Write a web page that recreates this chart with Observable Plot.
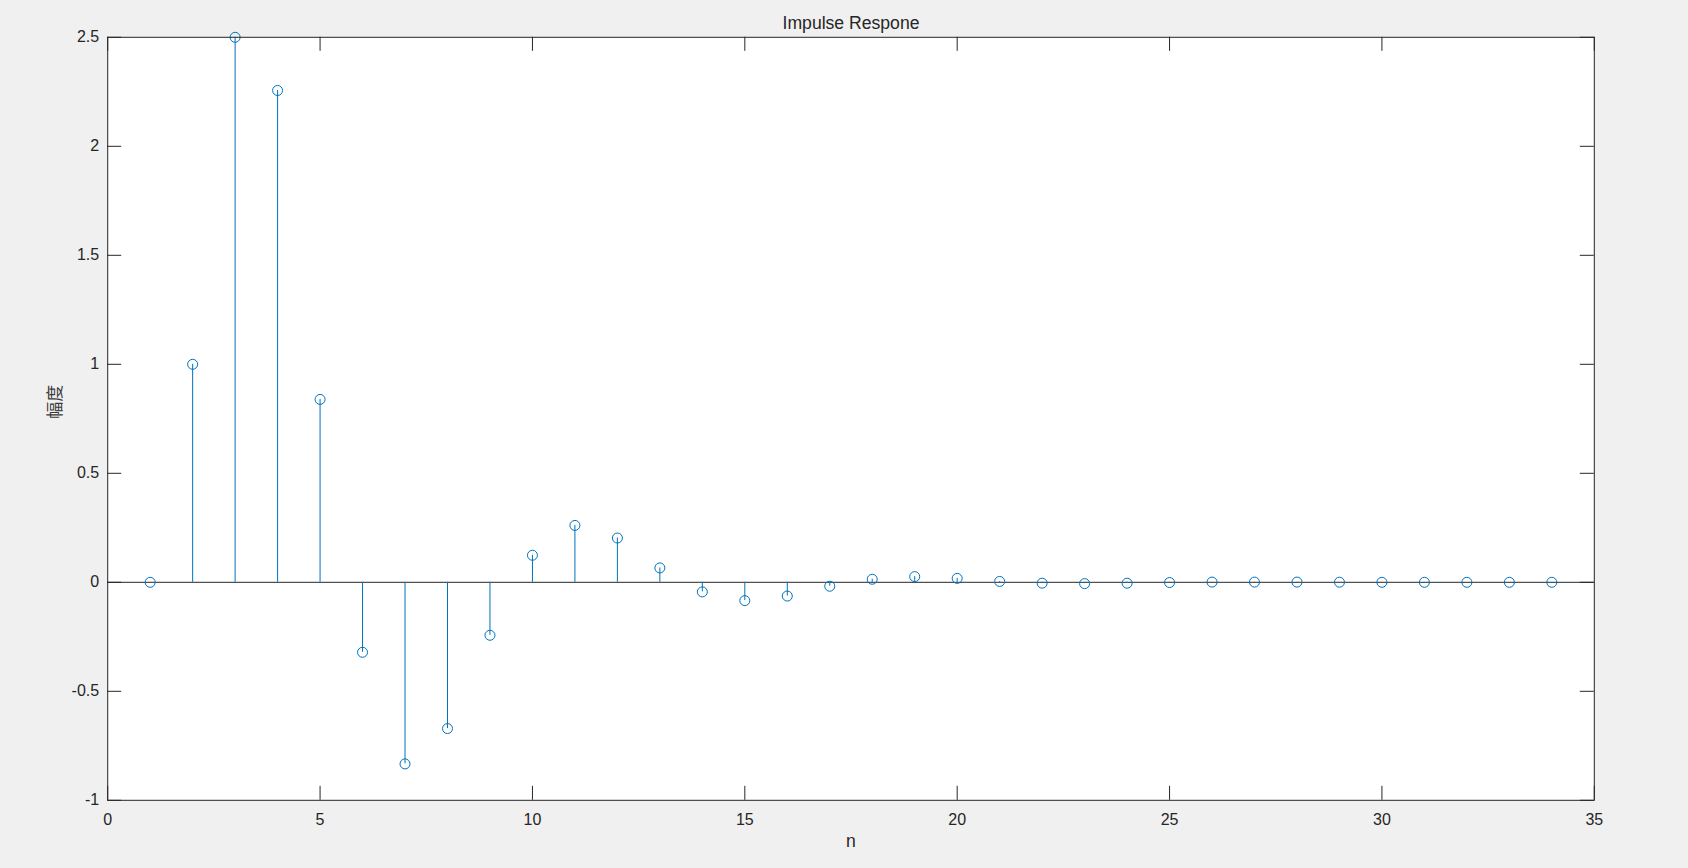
<!DOCTYPE html>
<html>
<head>
<meta charset="utf-8">
<script src="https://cdn.jsdelivr.net/npm/d3@7"></script>
<script src="https://cdn.jsdelivr.net/npm/@observablehq/plot@0.6"></script>
<style>
  html, body { margin: 0; padding: 0; background: #f0f0f0; overflow: hidden; }
</style>
</head>
<body>
<div id="chart"></div>
<script>
const titleText = "Impulse Respone";
const xLabel = "n";
const yLabel = "幅度";
const nValues = [1,2,3,4,5,6,7,8,9,10,11,12,13,14,15,16,17,18,19,20,21,22,23,24,25,26,27,28,29,30,31,32,33,34];
const hValues = [0, 1.0, 2.5, 2.256, 0.839, -0.321, -0.833, -0.671, -0.243, 0.124, 0.261, 0.203, 0.066, -0.044, -0.084, -0.063, -0.018, 0.014, 0.026, 0.018, 0.004, -0.004, -0.006, -0.004, -0.001, 0.001, 0.001, 0.001, 0.0005, 0, 0, 0, 0, 0];
const xTicks = [0, 5, 10, 15, 20, 25, 30, 35];
const yTicks = [-1, -0.5, 0, 0.5, 1, 1.5, 2, 2.5];
const xDomain = [0, 35];
const yDomain = [-1, 2.5];

const data = nValues.map((n, i) => ({n, v: hValues[i]}));

const W = 1688, H = 868;
const mL = 107.2, mR = 94.2, mT = 36.8, mB = 68.2;
const plotW = W - mL - mR, plotH = H - mT - mB;
const tickLen = 14;
const ink = "#262626";
const blue = "#0072BD";
const fmt = d => String(d);

const chart = Plot.plot({
  width: W,
  height: H,
  marginLeft: mL,
  marginRight: mR,
  marginTop: mT,
  marginBottom: mB,
  style: {background: "#f0f0f0", color: ink, fontFamily: "'Liberation Sans', Arial, Helvetica, sans-serif", fontSize: "16px"},
  x: {domain: xDomain},
  y: {domain: yDomain},
  marks: [
    Plot.frame({fill: "white", stroke: null}),
    Plot.ruleY([0], {stroke: ink, strokeWidth: 1}),
    Plot.ruleX(data, {x: "n", y1: () => 0, y2: "v", stroke: blue, strokeWidth: 1}),
    Plot.dot(data, {x: "n", y: "v", r: 5, stroke: blue, fill: "none", strokeWidth: 1}),
    // inward ticks on all four sides
    Plot.ruleX(xTicks, {x: d => d, insetTop: plotH - tickLen, stroke: ink}),
    Plot.ruleX(xTicks, {x: d => d, insetBottom: plotH - tickLen, stroke: ink}),
    Plot.ruleY(yTicks, {y: d => d, insetRight: plotW - tickLen, stroke: ink}),
    Plot.ruleY(yTicks, {y: d => d, insetLeft: plotW - tickLen, stroke: ink}),
    Plot.axisX(xTicks, {tickSize: 0, tickPadding: 13.5, tickFormat: fmt, label: null, fontSize: 16}),
    Plot.axisY(yTicks, {tickSize: 0, tickPadding: 8.5, tickFormat: fmt, label: null, fontSize: 16}),
    Plot.frame({stroke: ink, strokeWidth: 1}),
    Plot.text([titleText], {frameAnchor: "top", lineAnchor: "middle", dy: -14.4, fontSize: 17.6, fill: ink}),
    Plot.text([xLabel], {frameAnchor: "bottom", lineAnchor: "middle", dy: 41.5, fontSize: 17.6, fill: ink}),
    Plot.text([yLabel], {frameAnchor: "left", lineAnchor: "middle", rotate: -90, dx: -52.2, fontSize: 17, fill: "#3a3a3a", fontFamily: "'Noto Sans CJK SC', sans-serif"})
  ]
});
document.getElementById("chart").appendChild(chart);
</script>
</body>
</html>
